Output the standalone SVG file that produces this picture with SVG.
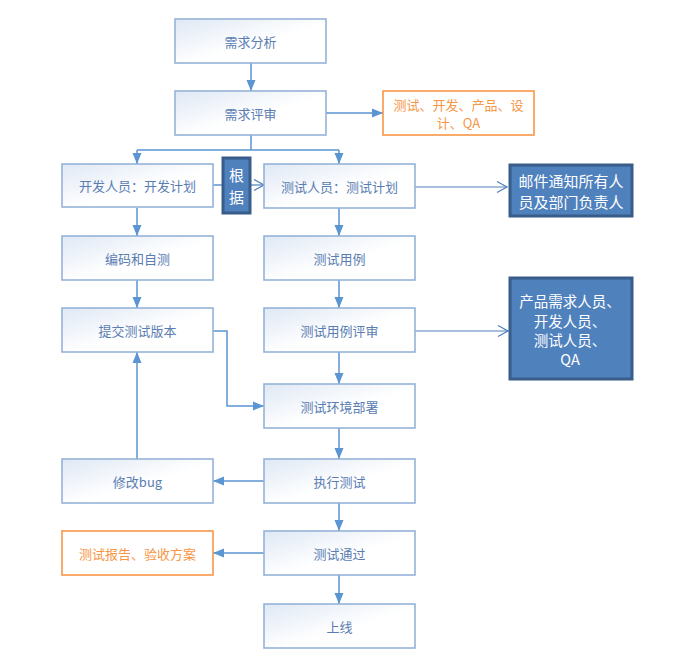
<svg xmlns="http://www.w3.org/2000/svg" width="700" height="666" viewBox="0 0 700 666">
<defs>
<linearGradient id="g" x1="0" y1="0" x2="1" y2="1">
<stop offset="0" stop-color="#dfe8f5"/>
<stop offset="0.55" stop-color="#ffffff"/>
<stop offset="1" stop-color="#ffffff"/>
</linearGradient>
<marker id="a" markerUnits="userSpaceOnUse" markerWidth="12" markerHeight="12" viewBox="0 0 12 12" refX="11" refY="6" orient="auto">
<path d="M0,1.5 L11,6 L0,10.5 Z" fill="#5b95d2"/>
</marker>
<marker id="o" markerUnits="userSpaceOnUse" markerWidth="14" markerHeight="14" viewBox="0 0 14 14" refX="12" refY="7" orient="auto">
<path d="M2,1.5 L12,7 L2,12.5" fill="none" stroke="#4f81bd" stroke-width="1.3"/>
</marker>
</defs>
<style>
.b{fill:url(#g);stroke:#95b3d7;stroke-width:1.6}
.ob{fill:#ffffff;stroke:#f79646;stroke-width:1.6}
.db{fill:#4f81bd;stroke:#385d8a;stroke-width:3}
text{font-family:"Noto Sans CJK SC","Liberation Sans",sans-serif;text-anchor:middle;dominant-baseline:central}
.t{font-size:13px;fill:#5a7db2}
.ot{font-size:13px;fill:#f79646}
.wt{font-size:14.5px;fill:#ffffff}
.c{fill:none;stroke:#5b95d2;stroke-width:1.5}
.c2{fill:none;stroke:#4f81bd;stroke-width:1.2}
</style>
<g id="connectors">
<path class="c" d="M251,63 V91" marker-end="url(#a)"/>
<path class="c" d="M326,113 H383" marker-end="url(#a)"/>
<path class="c" d="M251,135 V150 M137,150 H339"/>
<path class="c" d="M137,150 V164" marker-end="url(#a)"/>
<path class="c" d="M339,150 V164" marker-end="url(#a)"/>
<path class="c" d="M213,185 H222"/>
<path class="c2" d="M250,185 H264" marker-end="url(#o)"/>
<path class="c2" d="M415,187 H507" marker-end="url(#o)"/>
<path class="c" d="M137,208 V236" marker-end="url(#a)"/>
<path class="c" d="M339,208 V236" marker-end="url(#a)"/>
<path class="c" d="M137,280 V308" marker-end="url(#a)"/>
<path class="c" d="M339,280 V308" marker-end="url(#a)"/>
<path class="c2" d="M415,331 H508" marker-end="url(#o)"/>
<path class="c" d="M339,352 V384" marker-end="url(#a)"/>
<path class="c" d="M213,331 H227 V406 H264" marker-end="url(#a)"/>
<path class="c" d="M339,428 V459" marker-end="url(#a)"/>
<path class="c" d="M264,481 H213" marker-end="url(#a)"/>
<path class="c" d="M137,459 V352" marker-end="url(#a)"/>
<path class="c" d="M339,503 V531" marker-end="url(#a)"/>
<path class="c" d="M264,553 H213" marker-end="url(#a)"/>
<path class="c" d="M339,575 V604" marker-end="url(#a)"/>
</g>
<g id="n1"><rect class="b" x="175" y="19" width="151" height="44"/><text class="t" x="250.5" y="41">需求分析</text></g>
<g id="n2"><rect class="b" x="175" y="91" width="151" height="44"/><text class="t" x="250.5" y="113">需求评审</text></g>
<g id="n3"><rect class="ob" x="383" y="91" width="151" height="44"/><text class="ot" x="458.5" y="104">测试、开发、产品、设</text><text class="ot" x="458.5" y="122">计、QA</text></g>
<g id="n4"><rect class="b" x="62" y="164" width="151" height="43"/><text class="t" x="137.5" y="185.5">开发人员：开发计划</text></g>
<g id="n5"><rect class="db" x="223" y="158" width="27" height="55"/><text class="wt" x="236.5" y="174" style="font-size:15px">根</text><text class="wt" x="236.5" y="196" style="font-size:15px">据</text></g>
<g id="n6"><rect class="b" x="264" y="164" width="151" height="44"/><text class="t" x="339.5" y="186">测试人员：测试计划</text></g>
<g id="n7"><rect class="db" x="510" y="165" width="122" height="51"/><text class="wt" x="571" y="180" style="font-size:15px">邮件通知所有人</text><text class="wt" x="571" y="201" style="font-size:15px">员及部门负责人</text></g>
<g id="n8"><rect class="b" x="62" y="236" width="151" height="44"/><text class="t" x="137.5" y="258">编码和自测</text></g>
<g id="n9"><rect class="b" x="264" y="236" width="151" height="44"/><text class="t" x="339.5" y="258">测试用例</text></g>
<g id="n10"><rect class="b" x="62" y="308" width="151" height="44"/><text class="t" x="137.5" y="330">提交测试版本</text></g>
<g id="n11"><rect class="b" x="264" y="308" width="151" height="44"/><text class="t" x="339.5" y="330">测试用例评审</text></g>
<g id="n12"><rect class="db" x="510" y="278" width="122" height="101"/><text class="wt" x="570" y="300">产品需求人员、</text><text class="wt" x="570" y="320">开发人员、</text><text class="wt" x="570" y="339">测试人员、</text><text class="wt" x="570" y="358">QA</text></g>
<g id="n13"><rect class="b" x="264" y="384" width="151" height="44"/><text class="t" x="339.5" y="406">测试环境部署</text></g>
<g id="n14"><rect class="b" x="62" y="459" width="151" height="44"/><text class="t" x="137.5" y="481">修改bug</text></g>
<g id="n15"><rect class="b" x="264" y="459" width="151" height="44"/><text class="t" x="339.5" y="481">执行测试</text></g>
<g id="n16"><rect class="ob" x="62" y="531" width="151" height="44"/><text class="ot" x="137.5" y="553">测试报告、验收方案</text></g>
<g id="n17"><rect class="b" x="264" y="531" width="151" height="44"/><text class="t" x="339.5" y="553">测试通过</text></g>
<g id="n18"><rect class="b" x="264" y="604" width="151" height="44"/><text class="t" x="339.5" y="626">上线</text></g>
</svg>
